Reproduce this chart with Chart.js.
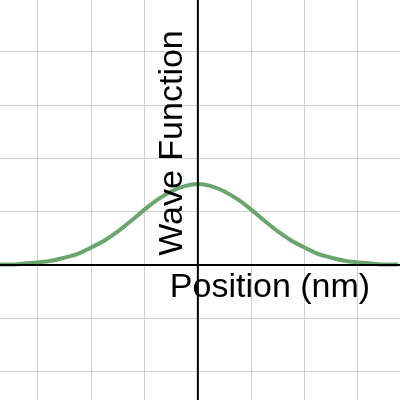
<!DOCTYPE html>
<html><head><style>html,body{margin:0;padding:0;background:#fff}#c{display:block}</style>
<script src="https://cdn.jsdelivr.net/npm/chart.js@4"></script></head>
<body><div style="width:400px;height:400px"><canvas id="c" width="400" height="400"></canvas></div>
<script>
const positions=[-3.75,-3.5,-3.25,-3,-2.75,-2.5,-2.25,-2,-1.75,-1.5,-1.25,-1,-0.75,-0.5,-0.25,0,0.25,0.5,0.75,1,1.25,1.5,1.75,2,2.25,2.5,2.75,3,3.25,3.5,3.75];
const waveValues=[0.01,0.01,0.03,0.05,0.08,0.14,0.21,0.33,0.46,0.63,0.83,1.04,1.23,1.38,1.48,1.52,1.48,1.38,1.23,1.04,0.83,0.63,0.46,0.33,0.21,0.14,0.08,0.05,0.03,0.01,0.01];
const xLabel="Position (nm)", yLabel="Wave Function";
const gridTicks=(s)=>{const t=[];for(let v=Math.ceil(s.min);v<=Math.floor(s.max);v++)t.push({value:v});s.ticks=t;};
const axesPlugin={id:'axes',afterDatasetsDraw(ch){const c=ch.ctx,x=ch.scales.x,y=ch.scales.y;const x0=x.getPixelForValue(0),y0=y.getPixelForValue(0);
c.save();c.strokeStyle='#000';c.lineWidth=2;c.beginPath();c.moveTo(0,y0);c.lineTo(400,y0);c.moveTo(x0,0);c.lineTo(x0,400);c.stroke();
c.fillStyle='#000';c.font='34px "Liberation Sans", Arial, sans-serif';c.textAlign='center';c.textBaseline='middle';
c.fillText(xLabel,270,288);c.translate(173,143);c.rotate(-Math.PI/2);c.fillText(yLabel,0,0);c.restore();}};
new Chart(document.getElementById('c'),{type:'line',
data:{datasets:[{data:positions.map((p,i)=>({x:p,y:waveValues[i]})),borderColor:'#6aa56e',borderWidth:4,pointRadius:0,tension:0.4,fill:false}]},
options:{responsive:false,animation:false,layout:{padding:0},plugins:{legend:{display:false},tooltip:{enabled:false}},
scales:{x:{type:'linear',min:-3.71,max:3.79,afterBuildTicks:gridTicks,ticks:{display:false},border:{display:false},grid:{color:'#d0d0d0',lineWidth:1,drawTicks:false}},
y:{type:'linear',min:-2.53,max:4.97,afterBuildTicks:gridTicks,ticks:{display:false},border:{display:false},grid:{color:'#d0d0d0',lineWidth:1,drawTicks:false}}}},
plugins:[axesPlugin]});
</script></body></html>
